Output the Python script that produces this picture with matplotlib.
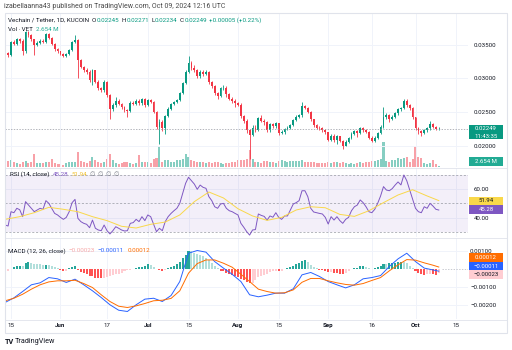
import numpy as np
import pandas as pd
import matplotlib
matplotlib.use("Agg")
import matplotlib.pyplot as plt
from matplotlib.patches import Rectangle
from matplotlib.lines import Line2D
from matplotlib.ticker import FuncFormatter

# VET/USDT daily candles, KuCoin
start_date = "2024-05-13"
end_date = "2024-10-09"
first_open = 34.3  # 1e-3 USDT

closes_m = [
    33.7, 33.4, 35.4, 35.1, 35.8, 35.6, 34.0, 36.8, 36.4, 35.8,
    35.0, 35.3, 35.6, 35.4, 36.5, 36.0, 35.1, 34.3, 34.0, 33.6,
    33.3, 33.6, 34.2, 35.4, 35.7, 32.7, 31.7, 31.3, 31.0, 29.8,
    31.2, 29.5, 28.5, 28.2, 29.5, 27.5, 25.5, 26.0, 26.7, 26.2,
    25.7, 25.3, 25.1, 26.4, 26.2, 26.7, 26.3, 26.9, 26.0, 26.8,
    26.5, 25.0, 22.8, 23.5, 22.6, 24.4, 25.5, 26.2, 26.5, 26.8,
    27.8, 29.3, 31.0, 32.2, 31.6, 31.2, 30.3, 31.0, 30.7, 31.0,
    29.4, 28.8, 27.8, 27.4, 28.5, 28.6, 27.6, 27.0, 26.7, 26.3,
    26.1, 24.4, 23.7, 22.3, 21.6, 22.7, 22.4, 24.1, 23.7, 23.5,
    22.3, 23.2, 22.9, 23.3, 21.9, 22.0, 22.5, 22.7, 23.0, 23.8,
    24.3, 24.5, 25.9, 25.6, 25.0, 23.9, 23.0, 22.7, 22.6, 22.3,
    22.0, 20.9, 21.5, 20.9, 21.4, 20.7, 20.0, 20.6, 21.1, 21.8,
    22.2, 21.9, 22.6, 22.3, 22.1, 21.2, 20.7, 21.2, 21.9, 22.8,
    24.2, 24.6, 24.0, 24.3, 24.8, 25.4, 25.6, 26.7, 26.0, 25.6,
    24.2, 22.6, 22.2, 21.9, 22.3, 22.6, 23.2, 22.8, 22.45, 22.49,
]
highs_m = [
    34.5, 33.9, 35.6, 35.7, 36.0, 36.0, 35.8, 37.0, 37.0, 36.6,
    35.9, 35.5, 35.8, 35.8, 36.7, 36.7, 36.1, 35.2, 34.5, 34.1,
    33.7, 33.8, 34.4, 35.5, 36.4, 35.9, 32.9, 31.9, 31.5, 31.2,
    31.4, 31.3, 29.7, 28.7, 29.7, 29.6, 27.7, 26.3, 27.2, 26.9,
    26.4, 25.9, 25.5, 26.6, 26.6, 26.9, 27.0, 27.1, 27.1, 27.0,
    26.9, 26.6, 25.1, 24.0, 23.8, 24.6, 25.7, 26.4, 26.7, 27.0,
    28.0, 29.5, 31.2, 33.3, 32.6, 32.0, 31.4, 31.3, 31.2, 31.3,
    31.1, 29.6, 29.0, 28.0, 28.7, 29.0, 28.8, 27.8, 27.2, 26.9,
    26.5, 26.3, 24.6, 23.9, 22.5, 23.0, 23.0, 24.3, 24.6, 23.9,
    23.6, 23.4, 23.4, 23.5, 23.4, 22.3, 22.7, 22.9, 23.2, 24.0,
    24.5, 24.7, 26.5, 26.1, 25.8, 25.1, 24.0, 23.2, 22.9, 22.8,
    22.5, 22.1, 21.7, 21.7, 21.6, 21.5, 20.8, 20.8, 21.3, 22.0,
    22.4, 22.4, 22.8, 22.8, 22.5, 22.2, 21.4, 21.4, 22.1, 23.0,
    25.7, 24.8, 24.7, 24.5, 25.0, 25.6, 25.8, 26.9, 27.0, 26.2,
    25.7, 24.3, 22.8, 22.4, 22.5, 22.8, 23.6, 23.3, 22.9, 22.71,
]
lows_m = [
    33.5, 33.2, 33.3, 34.9, 34.9, 35.3, 33.4, 33.8, 36.2, 35.6,
    33.5, 34.8, 35.1, 35.2, 35.3, 35.8, 34.9, 34.1, 33.8, 33.4,
    33.1, 33.1, 33.5, 34.1, 35.2, 30.0, 31.5, 31.0, 30.6, 29.5,
    29.0, 29.3, 28.2, 27.9, 28.0, 27.2, 23.9, 25.2, 25.8, 26.0,
    25.5, 25.0, 24.3, 25.0, 26.0, 26.0, 26.1, 26.1, 25.8, 25.9,
    26.3, 24.8, 22.5, 20.3, 22.2, 21.7, 24.2, 25.3, 26.0, 26.3,
    26.6, 27.6, 29.1, 30.8, 31.3, 31.0, 30.0, 30.1, 30.4, 30.5,
    29.2, 28.5, 27.5, 26.9, 27.2, 28.3, 27.3, 26.8, 26.4, 25.8,
    25.9, 24.1, 23.4, 21.9, 18.1, 21.4, 22.1, 22.2, 23.5, 23.0,
    22.0, 22.1, 22.6, 22.7, 21.6, 21.7, 21.8, 22.3, 22.5, 22.9,
    23.6, 24.1, 24.3, 25.4, 24.8, 23.7, 22.8, 22.5, 22.3, 22.0,
    21.8, 20.7, 20.7, 20.6, 20.2, 20.5, 19.5, 19.9, 20.4, 21.0,
    21.6, 21.3, 21.7, 22.1, 21.9, 21.0, 20.5, 20.5, 21.0, 21.7,
    22.6, 24.0, 23.5, 23.8, 24.1, 24.6, 25.2, 25.4, 25.8, 25.3,
    24.0, 22.3, 21.8, 21.4, 21.7, 22.1, 22.4, 22.6, 22.3, 22.34,
]
# volume, millions of VET
volumes_m = [
    10.5, 15.7, 18.3, 13.1, 10.5, 7.9, 13.1, 15.7, 10.5, 13.1,
    34.1, 10.5, 10.5, 10.5, 13.1, 13.1, 21.0, 10.5, 7.9, 7.9,
    5.2, 10.5, 13.1, 13.1, 13.1, 39.3, 15.7, 13.1, 10.5, 15.7,
    26.2, 18.3, 13.1, 10.5, 13.1, 21.0, 34.1, 18.3, 10.5, 7.9,
    10.5, 13.1, 13.1, 10.5, 7.9, 10.5, 31.4, 13.1, 13.1, 13.1,
    10.5, 21.0, 23.6, 55.0, 13.1, 18.3, 18.3, 13.1, 13.1, 18.3,
    18.3, 21.0, 34.1, 26.2, 18.3, 15.7, 13.1, 13.1, 13.1, 10.5,
    13.1, 10.5, 13.1, 13.1, 10.5, 7.9, 10.5, 10.5, 13.1, 13.1,
    18.3, 18.3, 18.3, 21.0, 44.5, 21.0, 13.1, 13.1, 10.5, 15.7,
    15.7, 13.1, 13.1, 10.5, 15.7, 18.3, 15.7, 13.1, 15.7, 15.7,
    15.7, 15.7, 18.3, 13.1, 13.1, 13.1, 13.1, 10.5, 10.5, 10.5,
    10.5, 13.1, 10.5, 13.1, 13.1, 10.5, 13.1, 10.5, 7.9, 10.5,
    7.9, 10.5, 13.1, 10.5, 13.1, 13.1, 15.7, 15.7, 18.3, 21.0,
    65.5, 15.7, 13.1, 18.3, 18.3, 23.6, 21.0, 23.6, 26.2, 13.1,
    21.0, 55.0, 26.2, 23.6, 10.5, 7.9, 10.5, 18.3, 7.9, 2.654,
]
rsi = [
    34.7, 34.0, 44.1, 43.4, 46.5, 45.5, 40.6, 51.2, 48.8, 46.5,
    44.1, 45.3, 46.5, 45.8, 51.9, 50.0, 46.5, 42.9, 41.8, 40.1,
    38.7, 40.1, 44.1, 50.5, 52.8, 39.4, 37.1, 35.9, 35.2, 32.8,
    38.2, 32.4, 31.2, 30.7, 34.7, 30.7, 28.4, 30.7, 33.5, 32.4,
    31.2, 30.5, 30.7, 35.9, 36.4, 38.7, 37.1, 40.6, 37.8, 41.8,
    40.6, 35.4, 30.0, 32.4, 30.7, 37.1, 40.6, 42.9, 44.8, 46.5,
    50.0, 57.1, 64.1, 68.4, 66.0, 63.6, 59.9, 62.9, 61.3, 60.6,
    54.7, 51.9, 47.6, 46.5, 49.5, 50.0, 46.5, 44.8, 44.1, 42.9,
    41.8, 35.9, 33.1, 30.0, 27.6, 31.2, 31.5, 42.5, 41.5, 40.8,
    38.2, 41.1, 40.2, 43.4, 40.1, 38.7, 41.1, 41.1, 45.3, 49.5,
    50.5, 51.9, 58.9, 58.9, 54.7, 46.5, 43.9, 43.4, 42.9, 42.5,
    40.1, 35.4, 40.6, 38.2, 40.6, 37.8, 35.9, 38.7, 40.1, 44.8,
    47.6, 48.8, 52.4, 50.5, 47.6, 44.1, 43.4, 45.8, 50.0, 55.2,
    61.8, 59.4, 58.9, 60.4, 62.9, 65.1, 63.0, 70.0, 66.0, 59.5,
    52.8, 46.5, 44.1, 43.4, 47.6, 46.5, 50.0, 48.1, 45.8, 45.28,
]
rsi_ma_days = list(range(0, 150, 5)) + [149]
rsi_ma = [
    38.7, 40.6, 43.4, 47.2, 45.8, 44.1, 40.6, 37.8, 33.8, 32.6,
    35.2, 36.8, 41.8, 51.2, 58.0, 53.8, 46.2, 41.1, 38.0, 40.1,
    45.3, 47.6, 46.9, 42.2, 40.8, 44.8, 50.5, 55.9, 59.6, 55.2, 51.94,
]
# MACD (12, 26), 1e-3 USDT
macd_days = list(range(0, 150, 3)) + [149]
macd_line = [
    -1.83, -1.58, -1.23, -0.86, -0.75, -0.46, -0.53, -0.73, -0.55, -0.86,
    -1.19, -1.56, -1.96, -2.26, -2.33, -1.96, -1.65, -1.60, -1.78, -1.45,
    -0.68, 0.88, 1.03, 0.94, 0.42, 0.06, -0.28, -0.68, -1.41, -1.52,
    -1.43, -1.32, -1.32, -1.08, -0.31, -0.18, -0.40, -0.68, -0.86, -1.03,
    -0.86, -0.53, -0.46, -0.35, 0.15, 0.57, 0.88, 0.42, 0.06, -0.04, -0.11,
]
signal_line = [
    -1.74, -1.60, -1.38, -1.10, -0.86, -0.70, -0.64, -0.64, -0.61, -0.79,
    -1.01, -1.41, -1.78, -2.04, -2.11, -2.02, -1.89, -1.74, -1.71, -1.61,
    -1.19, -0.22, 0.31, 0.51, 0.51, 0.33, 0.11, -0.28, -0.68, -1.10,
    -1.23, -1.32, -1.30, -1.14, -0.72, -0.51, -0.51, -0.64, -0.75, -0.84,
    -0.88, -0.79, -0.62, -0.46, -0.09, 0.24, 0.53, 0.50, 0.35, 0.22, 0.12,
]
hist = [
    -0.17, -0.10, 0.03, 0.11, 0.15, 0.20, 0.18, 0.33, 0.39, 0.35,
    0.28, 0.26, 0.26, 0.24, 0.25, 0.24, 0.20, 0.14, 0.07, -0.05,
    -0.10, -0.08, 0.05, 0.13, 0.15, -0.05, -0.15, -0.22, -0.28, -0.35,
    -0.40, -0.48, -0.50, -0.50, -0.46, -0.42, -0.38, -0.33, -0.28, -0.24,
    -0.20, -0.12, -0.06, -0.03, 0.02, 0.09, 0.10, 0.14, 0.20, 0.27,
    0.25, 0.12, 0.03, -0.05, -0.08, -0.04, 0.05, 0.12, 0.20, 0.30,
    0.42, 0.60, 0.80, 1.00, 0.98, 0.92, 0.82, 0.78, 0.70, 0.60,
    0.48, 0.35, 0.20, 0.05, -0.08, -0.12, -0.20, -0.28, -0.34, -0.40,
    -0.45, -0.52, -0.60, -0.70, -0.78, -0.75, -0.60, -0.45, -0.38, -0.32,
    -0.25, -0.18, -0.12, -0.08, -0.10, -0.08, 0.02, 0.06, 0.12, 0.20,
    0.27, 0.33, 0.45, 0.48, 0.38, 0.25, 0.12, 0.05, -0.03, -0.05,
    -0.08, -0.18, -0.15, -0.20, -0.22, -0.24, -0.27, -0.20, -0.12, 0.00,
    0.05, 0.08, 0.15, 0.16, 0.10, 0.05, 0.03, 0.05, 0.12, 0.20,
    0.30, 0.30, 0.32, 0.34, 0.36, 0.38, 0.40, 0.38, 0.32, 0.20,
    0.08, -0.12, -0.20, -0.28, -0.30, -0.28, -0.26, -0.28, -0.30, -0.23,
]

tick_dates = ["2024-05-15", "2024-06-01", "2024-06-17", "2024-07-01", "2024-07-15",
              "2024-08-01", "2024-08-15", "2024-09-01", "2024-09-16", "2024-10-01",
              "2024-10-15"]
tick_labels = ["15", "Jun", "17", "Jul", "15", "Aug", "15", "Sep", "16", "Oct", "15"]

UP, DOWN = "#089981", "#F23645"
TXT = "#131722"
plt.rcParams["font.family"] = ["Roboto", "DejaVu Sans"]

dates = pd.date_range(start_date, end_date, freq="D")
x = np.arange(len(dates))
tick_pos = [(pd.Timestamp(d) - dates[0]).days for d in tick_dates]

closes = np.array(closes_m) * 1e-3
opens = np.concatenate([[first_open * 1e-3], closes[:-1]])
highs = np.array(highs_m) * 1e-3
lows = np.array(lows_m) * 1e-3
up = closes >= opens

W, H = 512, 350
fig = plt.figure(figsize=(W / 100, H / 100), dpi=100)
fig.patch.set_facecolor("white")


def fx(px):
    return px / W


def fy(py):
    return 1 - py / H


def pane(y0, y1, x0=5, x1=468):
    a = fig.add_axes([fx(x0), fy(y1), (x1 - x0) / W, (y1 - y0) / H])
    a.set_xlim(-0.06, 159.04)
    for s in a.spines.values():
        s.set_visible(False)
    a.set_xticks(tick_pos)
    a.tick_params(axis="x", length=0, labelbottom=False)
    a.tick_params(axis="y", length=0, left=False, labelleft=False)
    return a


def tag(yc, text, bg, fg, h=8.4, x0=469, x1=503):
    fig.patches.append(Rectangle((fx(x0), fy(yc + h / 2)), (x1 - x0) / W, h / H,
                                 transform=fig.transFigure, facecolor=bg,
                                 edgecolor="none", zorder=5))
    fig.text(fx((x0 + x1) / 2), fy(yc), text, ha="center", va="center",
             fontsize=4.3, color=fg, zorder=6)


def legend_row(x0, y, parts, size=4.5):
    r = fig.canvas.get_renderer()
    xx = x0
    for text, color, gap in parts:
        t = fig.text(fx(xx), fy(y), text, color=color, fontsize=size,
                     ha="left", va="center")
        xx = t.get_window_extent(renderer=r).x1 + gap


# volume (own scale, behind the candles)
axv = pane(13, 167)
axv.bar(x, volumes_m, width=0.7, color=np.where(up, "#86CEC2", "#F8A1A8"), lw=0)
axv.set_ylim(0, 403)
axv.set_yticks([])

# candles
ax = pane(13, 167)
ax.patch.set_alpha(0)
col = np.where(up, UP, DOWN)
ax.vlines(x, lows, highs, colors=col, lw=0.6)
ax.bar(x, np.maximum(np.abs(closes - opens), 4e-5), bottom=np.minimum(opens, closes),
       width=0.62, color=col, lw=0)
ax.axhline(closes[-1], color="#9598A1", lw=0.5, ls=(0, (2, 2)))
ax.set_ylim(0.01684, 0.03969)
ax.set_yticks([0.020, 0.025, 0.030, 0.035])
ax.yaxis.tick_right()
ax.yaxis.set_major_formatter(FuncFormatter(lambda v, p: f"{v:.5f}"))
ax.tick_params(axis="y", length=0, right=False, labelright=True, pad=4.4,
               labelsize=4.4, labelcolor=TXT)
ax.grid(color="#F0F3FA", lw=0.7)
ax.set_axisbelow(True)

# RSI
ar = pane(168, 237)
ar.set_ylim(26.25, 74.94)
ar.axhspan(30, 70, color="#7E57C2", alpha=0.09, lw=0)
for lvl in (70, 50, 30):
    ar.axhline(lvl, color="#9598A1", lw=0.5, ls=(0, (3, 2.5)))
ar.plot(x, rsi, color="#7E57C2", lw=0.7)
ar.plot(rsi_ma_days, rsi_ma, color="#F9D84A", lw=0.7)
ar.set_yticks([40, 60])
ar.yaxis.tick_right()
ar.yaxis.set_major_formatter(FuncFormatter(lambda v, p: f"{v:.2f}"))
ar.tick_params(axis="y", length=0, right=False, labelright=True, pad=4.4,
               labelsize=4.4, labelcolor=TXT)
ar.grid(color="#F0F3FA", lw=0.7)
ar.set_axisbelow(True)

# MACD
am = pane(238, 319)
am.set_ylim(-0.002744, 0.001719)
h = np.array(hist)
prev = np.concatenate([[h[0]], h[:-1]])
hcol = np.where(h >= 0, np.where(h > prev, "#26A69A", "#B2DFDB"),
                np.where(h > prev, "#FFCDD2", "#FF5252"))
am.bar(x, h * 1e-3, width=0.7, color=hcol, lw=0)
am.plot(macd_days, np.array(macd_line) * 1e-3, color="#2962FF", lw=0.7)
am.plot(macd_days, np.array(signal_line) * 1e-3, color="#FF6D00", lw=0.7)
am.hlines(0, x[-1] + 1, 159, color="#B2B5BE", lw=0.5, ls=(0, (2, 2)))
am.set_yticks([-0.002, -0.001, 0.001])
am.yaxis.tick_right()
am.yaxis.set_major_formatter(FuncFormatter(lambda v, p: f"{v:.5f}".replace("-", "\u2212")))
am.tick_params(axis="y", length=0, right=False, labelright=True, pad=1.5,
               labelsize=4.4, labelcolor=TXT)
am.grid(color="#F0F3FA", lw=0.7)
am.set_axisbelow(True)
am.set_xticks(tick_pos, tick_labels)
am.tick_params(axis="x", labelbottom=True, pad=2.6, labelsize=4.4, labelcolor=TXT)
for lab in am.get_xticklabels():
    if lab.get_text().isalpha():
        lab.set_fontweight("bold")

# frame and pane separators
fig.patches.append(Rectangle((fx(5), fy(333)), 502 / W, 320 / H, transform=fig.transFigure,
                             facecolor="none", edgecolor="#E0E3EB", lw=0.8))
for yy in (167.5, 237.5, 319.5):
    fig.add_artist(Line2D([fx(5), fx(507)], [fy(yy), fy(yy)], color="#E0E3EB", lw=0.6))

# right-hand value tags
tag(129, "0.02249", UP, "white")
tag(136.2, "11:43:35", UP, "white", h=6)
tag(161.5, "2.654 M", "#22AB94", "white")
tag(200.7, "51.94", "#F9D84A", TXT)
tag(209.7, "45.28", "#7E57C2", "white")
tag(257.7, "0.00012", "#FF6D00", "white")
tag(266.1, "\u22120.00011", "#2962FF", "white")
tag(274.5, "\u22120.00023", "#FFCDD2", TXT)

# texts
fig.text(fx(4), fy(6), "izabellaanna43 published on TradingView.com, Oct 09, 2024 12:16 UTC",
         fontsize=5.0, color="#4A4A4A", ha="left", va="center")
legend_row(8, 20, [("Vechain / Tether, 1D, KUCOIN", TXT, 3),
                   ("O", TXT, 0.2), ("0.02245", UP, 2.5),
                   ("H", TXT, 0.2), ("0.02271", UP, 2.5),
                   ("L", TXT, 0.2), ("0.02234", UP, 2.5),
                   ("C", TXT, 0.2), ("0.02249", UP, 2.5),
                   ("+0.00005 (+0.22%)", UP, 0)])
legend_row(8, 29.5, [("Vol \u00b7 VET", TXT, 3), ("2.654 M", "#22AB94", 0)])
legend_row(10, 174, [("RSI (14, close)", TXT, 3), ("45.28", "#7E57C2", 3),
                     ("51.94", "#F2C230", 3), ("\u2205", "#787B86", 2.5),
                     ("\u2205", "#787B86", 2.5), ("\u2205", "#787B86", 2.5),
                     ("\u2205", "#787B86", 0)])
legend_row(8, 250.7, [("MACD (12, 26, close)", TXT, 3), ("\u22120.00023", "#F7A9A9", 3),
                      ("\u22120.00011", "#2962FF", 3), ("0.00012", "#FF6D00", 0)])
fig.text(fx(5), fy(341.5), "TV", fontsize=5.2, fontweight="bold", color=TXT,
         ha="left", va="center")
fig.text(fx(15), fy(341.5), "TradingView", fontsize=5.2, color=TXT, ha="left", va="center")

fig.savefig("out.png", dpi=100, facecolor="white")
